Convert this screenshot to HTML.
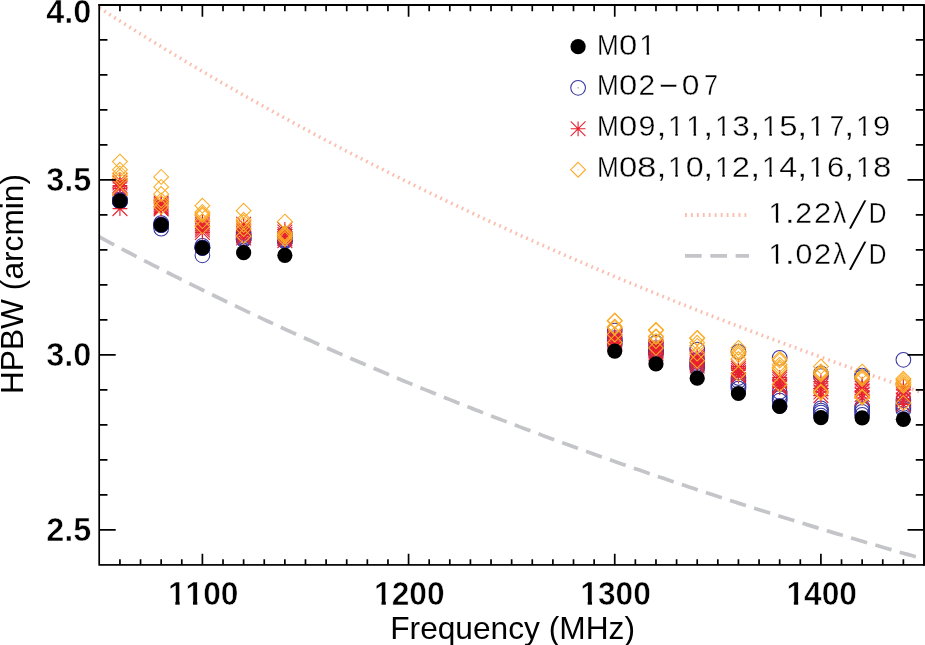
<!DOCTYPE html>
<html><head><meta charset="utf-8"><title>HPBW vs Frequency</title>
<style>
html,body{margin:0;padding:0;background:#fff;}
body{width:925px;height:645px;overflow:hidden;}
svg{display:block;}
text{font-kerning:none;}
.n{fill:none;stroke:#3434a2;stroke-width:1.05;}
.k{fill:#000;}
.r{fill:none;stroke:#e8202e;stroke-width:1.1;}
.o{fill:none;stroke:#fcab26;stroke-width:1.05;}
.lo{stroke-width:1.1;}
.tl{font-family:"Liberation Sans",Arial,sans-serif;font-weight:bold;font-size:33.0px;fill:#000;stroke:#fff;stroke-width:0.55px;}
.at{font-family:"Liberation Sans",Arial,sans-serif;font-size:31.7px;fill:#000;}
.lg{font-family:"Liberation Sans",Arial,sans-serif;font-size:28.8px;fill:#000;stroke:#fff;stroke-width:0.35px;}
</style></head>
<body><svg width="925" height="645" viewBox="0 0 925 645">
<rect width="925" height="645" fill="#fff"/>
<path d="M99.31 7.85 L103.44 10.51 L107.56 13.15 L111.69 15.79 L115.81 18.41 L119.93 21.03 L124.06 23.64 L128.18 26.23 L132.30 28.82 L136.43 31.40 L140.55 33.96 L144.67 36.52 L148.80 39.07 L152.92 41.61 L157.04 44.14 L161.17 46.66 L165.29 49.17 L169.41 51.67 L173.54 54.16 L177.66 56.64 L181.78 59.12 L185.91 61.58 L190.03 64.04 L194.15 66.49 L198.28 68.92 L202.40 71.35 L206.52 73.77 L210.65 76.18 L214.77 78.59 L218.89 80.98 L223.02 83.37 L227.14 85.74 L231.26 88.11 L235.39 90.47 L239.51 92.82 L243.63 95.17 L247.76 97.50 L251.88 99.83 L256.00 102.14 L260.13 104.45 L264.25 106.76 L268.37 109.05 L272.50 111.34 L276.62 113.61 L280.74 115.88 L284.87 118.14 L288.99 120.40 L293.11 122.64 L297.24 124.88 L301.36 127.11 L305.49 129.33 L309.61 131.55 L313.73 133.75 L317.86 135.95 L321.98 138.14 L326.10 140.33 L330.23 142.51 L334.35 144.67 L338.47 146.84 L342.60 148.99 L346.72 151.14 L350.84 153.28 L354.97 155.41 L359.09 157.53 L363.21 159.65 L367.34 161.76 L371.46 163.87 L375.58 165.96 L379.71 168.05 L383.83 170.13 L387.95 172.21 L392.08 174.28 L396.20 176.34 L400.32 178.39 L404.45 180.44 L408.57 182.48 L412.69 184.52 L416.82 186.54 L420.94 188.56 L425.06 190.58 L429.19 192.58 L433.31 194.58 L437.43 196.58 L441.56 198.57 L445.68 200.55 L449.80 202.52 L453.93 204.49 L458.05 206.45 L462.17 208.41 L466.30 210.35 L470.42 212.30 L474.54 214.23 L478.67 216.16 L482.79 218.09 L486.91 220.00 L491.04 221.91 L495.16 223.82 L499.28 225.72 L503.41 227.61 L507.53 229.50 L511.65 231.38 L515.78 233.25 L519.90 235.12 L524.03 236.98 L528.15 238.84 L532.27 240.69 L536.40 242.54 L540.52 244.38 L544.64 246.21 L548.77 248.04 L552.89 249.86 L557.01 251.67 L561.14 253.49 L565.26 255.29 L569.38 257.09 L573.51 258.88 L577.63 260.67 L581.75 262.45 L585.88 264.23 L590.00 266.00 L594.12 267.77 L598.25 269.53 L602.37 271.28 L606.49 273.03 L610.62 274.77 L614.74 276.51 L618.86 278.25 L622.99 279.97 L627.11 281.70 L631.23 283.42 L635.36 285.13 L639.48 286.83 L643.60 288.54 L647.73 290.23 L651.85 291.92 L655.97 293.61 L660.10 295.29 L664.22 296.97 L668.34 298.64 L672.47 300.30 L676.59 301.97 L680.71 303.62 L684.84 305.27 L688.96 306.92 L693.08 308.56 L697.21 310.20 L701.33 311.83 L705.45 313.45 L709.58 315.08 L713.70 316.69 L717.83 318.31 L721.95 319.91 L726.07 321.52 L730.20 323.11 L734.32 324.71 L738.44 326.30 L742.57 327.88 L746.69 329.46 L750.81 331.03 L754.94 332.60 L759.06 334.17 L763.18 335.73 L767.31 337.29 L771.43 338.84 L775.55 340.38 L779.68 341.93 L783.80 343.47 L787.92 345.00 L792.05 346.53 L796.17 348.05 L800.29 349.57 L804.42 351.09 L808.54 352.60 L812.66 354.11 L816.79 355.61 L820.91 357.11 L825.03 358.61 L829.16 360.10 L833.28 361.58 L837.40 363.07 L841.53 364.54 L845.65 366.02 L849.77 367.49 L853.90 368.95 L858.02 370.41 L862.14 371.87 L866.27 373.32 L870.39 374.77 L874.51 376.22 L878.64 377.66 L882.76 379.09 L886.88 380.53 L891.01 381.96 L895.13 383.38 L899.25 384.80 L903.38 386.22 L907.50 387.63 L911.62 389.04 L915.75 390.44 L919.87 391.85 L924.00 393.24" fill="none" stroke="#fabfae" stroke-width="3.6" stroke-dasharray="1.8 4.12"/>
<path d="M99.31 236.87 L103.44 239.10 L107.56 241.31 L111.69 243.51 L115.81 245.71 L119.93 247.89 L124.06 250.07 L128.18 252.24 L132.30 254.41 L136.43 256.56 L140.55 258.71 L144.67 260.85 L148.80 262.98 L152.92 265.10 L157.04 267.21 L161.17 269.32 L165.29 271.42 L169.41 273.51 L173.54 275.59 L177.66 277.67 L181.78 279.74 L185.91 281.80 L190.03 283.85 L194.15 285.90 L198.28 287.94 L202.40 289.97 L206.52 291.99 L210.65 294.01 L214.77 296.02 L218.89 298.02 L223.02 300.01 L227.14 302.00 L231.26 303.98 L235.39 305.95 L239.51 307.92 L243.63 309.88 L247.76 311.83 L251.88 313.77 L256.00 315.71 L260.13 317.64 L264.25 319.57 L268.37 321.48 L272.50 323.40 L276.62 325.30 L280.74 327.20 L284.87 329.09 L288.99 330.97 L293.11 332.85 L297.24 334.72 L301.36 336.58 L305.49 338.44 L309.61 340.29 L313.73 342.14 L317.86 343.98 L321.98 345.81 L326.10 347.64 L330.23 349.46 L334.35 351.27 L338.47 353.08 L342.60 354.88 L346.72 356.67 L350.84 358.46 L354.97 360.24 L359.09 362.02 L363.21 363.79 L367.34 365.56 L371.46 367.31 L375.58 369.07 L379.71 370.81 L383.83 372.55 L387.95 374.29 L392.08 376.02 L396.20 377.74 L400.32 379.46 L404.45 381.17 L408.57 382.88 L412.69 384.58 L416.82 386.27 L420.94 387.96 L425.06 389.65 L429.19 391.32 L433.31 393.00 L437.43 394.66 L441.56 396.33 L445.68 397.98 L449.80 399.63 L453.93 401.28 L458.05 402.92 L462.17 404.55 L466.30 406.18 L470.42 407.81 L474.54 409.42 L478.67 411.04 L482.79 412.65 L486.91 414.25 L491.04 415.85 L495.16 417.44 L499.28 419.03 L503.41 420.61 L507.53 422.19 L511.65 423.76 L515.78 425.33 L519.90 426.89 L524.03 428.45 L528.15 430.00 L532.27 431.55 L536.40 433.09 L540.52 434.63 L544.64 436.16 L548.77 437.69 L552.89 439.21 L557.01 440.73 L561.14 442.24 L565.26 443.75 L569.38 445.25 L573.51 446.75 L577.63 448.25 L581.75 449.74 L585.88 451.22 L590.00 452.71 L594.12 454.18 L598.25 455.65 L602.37 457.12 L606.49 458.58 L610.62 460.04 L614.74 461.49 L618.86 462.94 L622.99 464.39 L627.11 465.83 L631.23 467.27 L635.36 468.70 L639.48 470.12 L643.60 471.55 L647.73 472.96 L651.85 474.38 L655.97 475.79 L660.10 477.19 L664.22 478.60 L668.34 479.99 L672.47 481.39 L676.59 482.77 L680.71 484.16 L684.84 485.54 L688.96 486.92 L693.08 488.29 L697.21 489.66 L701.33 491.02 L705.45 492.38 L709.58 493.74 L713.70 495.09 L717.83 496.44 L721.95 497.78 L726.07 499.12 L730.20 500.46 L734.32 501.79 L738.44 503.12 L742.57 504.44 L746.69 505.76 L750.81 507.08 L754.94 508.39 L759.06 509.70 L763.18 511.00 L767.31 512.30 L771.43 513.60 L775.55 514.90 L779.68 516.19 L783.80 517.47 L787.92 518.75 L792.05 520.03 L796.17 521.31 L800.29 522.58 L804.42 523.85 L808.54 525.11 L812.66 526.37 L816.79 527.63 L820.91 528.88 L825.03 530.13 L829.16 531.38 L833.28 532.62 L837.40 533.86 L841.53 535.09 L845.65 536.33 L849.77 537.55 L853.90 538.78 L858.02 540.00 L862.14 541.22 L866.27 542.43 L870.39 543.65 L874.51 544.85 L878.64 546.06 L882.76 547.26 L886.88 548.46 L891.01 549.65 L895.13 550.84 L899.25 552.03 L903.38 553.21 L907.50 554.40 L911.62 555.57 L915.75 556.75 L919.87 557.92 L924.00 559.09" fill="none" stroke="#c4c5c9" stroke-width="3.7" stroke-dasharray="16.8 8.55"/>
<circle cx="119.93" cy="199.5" r="7.35" class="n"/>
<circle cx="119.93" cy="200.9" r="7.35" class="n"/>
<circle cx="119.93" cy="200.9" r="7.35" class="n"/>
<circle cx="119.93" cy="200.9" r="7.35" class="n"/>
<circle cx="119.93" cy="201.2" r="7.35" class="n"/>
<circle cx="119.93" cy="201.5" r="7.35" class="n"/>
<circle cx="161.17" cy="223" r="7.35" class="n"/>
<circle cx="161.17" cy="224.8" r="7.35" class="n"/>
<circle cx="161.17" cy="224.8" r="7.35" class="n"/>
<circle cx="161.17" cy="225" r="7.35" class="n"/>
<circle cx="161.17" cy="225.2" r="7.35" class="n"/>
<circle cx="161.17" cy="228.6" r="7.35" class="n"/>
<circle cx="202.4" cy="245.8" r="7.35" class="n"/>
<circle cx="202.4" cy="247.8" r="7.35" class="n"/>
<circle cx="202.4" cy="247.8" r="7.35" class="n"/>
<circle cx="202.4" cy="247.8" r="7.35" class="n"/>
<circle cx="202.4" cy="248" r="7.35" class="n"/>
<circle cx="202.4" cy="255.3" r="7.35" class="n"/>
<circle cx="243.63" cy="233" r="7.35" class="n"/>
<circle cx="243.63" cy="235" r="7.35" class="n"/>
<circle cx="243.63" cy="236.5" r="7.35" class="n"/>
<circle cx="243.63" cy="238" r="7.35" class="n"/>
<circle cx="243.63" cy="239" r="7.35" class="n"/>
<circle cx="243.63" cy="240" r="7.35" class="n"/>
<circle cx="284.87" cy="234" r="7.35" class="n"/>
<circle cx="284.87" cy="236" r="7.35" class="n"/>
<circle cx="284.87" cy="238" r="7.35" class="n"/>
<circle cx="284.87" cy="239.5" r="7.35" class="n"/>
<circle cx="284.87" cy="240.5" r="7.35" class="n"/>
<circle cx="284.87" cy="241.5" r="7.35" class="n"/>
<circle cx="614.74" cy="330.5" r="7.35" class="n"/>
<circle cx="614.74" cy="338" r="7.35" class="n"/>
<circle cx="614.74" cy="340" r="7.35" class="n"/>
<circle cx="614.74" cy="341" r="7.35" class="n"/>
<circle cx="614.74" cy="342" r="7.35" class="n"/>
<circle cx="614.74" cy="344" r="7.35" class="n"/>
<circle cx="655.97" cy="342.7" r="7.35" class="n"/>
<circle cx="655.97" cy="348" r="7.35" class="n"/>
<circle cx="655.97" cy="350" r="7.35" class="n"/>
<circle cx="655.97" cy="351" r="7.35" class="n"/>
<circle cx="655.97" cy="352" r="7.35" class="n"/>
<circle cx="655.97" cy="354" r="7.35" class="n"/>
<circle cx="697.21" cy="349.5" r="7.35" class="n"/>
<circle cx="697.21" cy="360" r="7.35" class="n"/>
<circle cx="697.21" cy="362" r="7.35" class="n"/>
<circle cx="697.21" cy="364" r="7.35" class="n"/>
<circle cx="697.21" cy="366" r="7.35" class="n"/>
<circle cx="697.21" cy="368" r="7.35" class="n"/>
<circle cx="738.44" cy="351.8" r="7.35" class="n"/>
<circle cx="738.44" cy="378" r="7.35" class="n"/>
<circle cx="738.44" cy="381" r="7.35" class="n"/>
<circle cx="738.44" cy="384" r="7.35" class="n"/>
<circle cx="738.44" cy="386.5" r="7.35" class="n"/>
<circle cx="738.44" cy="388.5" r="7.35" class="n"/>
<circle cx="779.68" cy="357.8" r="7.35" class="n"/>
<circle cx="779.68" cy="392" r="7.35" class="n"/>
<circle cx="779.68" cy="395.3" r="7.35" class="n"/>
<circle cx="779.68" cy="398" r="7.35" class="n"/>
<circle cx="779.68" cy="400.5" r="7.35" class="n"/>
<circle cx="779.68" cy="406" r="7.35" class="n"/>
<circle cx="820.91" cy="373.4" r="7.35" class="n"/>
<circle cx="820.91" cy="376" r="7.35" class="n"/>
<circle cx="820.91" cy="408.3" r="7.35" class="n"/>
<circle cx="820.91" cy="410.5" r="7.35" class="n"/>
<circle cx="820.91" cy="412.5" r="7.35" class="n"/>
<circle cx="820.91" cy="415.5" r="7.35" class="n"/>
<circle cx="862.14" cy="375.5" r="7.35" class="n"/>
<circle cx="862.14" cy="377" r="7.35" class="n"/>
<circle cx="862.14" cy="406.8" r="7.35" class="n"/>
<circle cx="862.14" cy="409" r="7.35" class="n"/>
<circle cx="862.14" cy="411.8" r="7.35" class="n"/>
<circle cx="862.14" cy="414.9" r="7.35" class="n"/>
<circle cx="903.38" cy="359.8" r="7.35" class="n"/>
<circle cx="903.38" cy="400" r="7.35" class="n"/>
<circle cx="903.38" cy="404" r="7.35" class="n"/>
<circle cx="903.38" cy="406" r="7.35" class="n"/>
<circle cx="903.38" cy="408" r="7.35" class="n"/>
<circle cx="903.38" cy="410" r="7.35" class="n"/>
<path class="r" d="M112.53 173.1L127.33 187.9M127.33 173.1L112.53 187.9M119.93 173.1V187.9M112.53 180.5H127.33"/>
<path class="r" d="M112.53 175.6L127.33 190.4M127.33 175.6L112.53 190.4M119.93 175.6V190.4M112.53 183H127.33"/>
<path class="r" d="M112.53 178.1L127.33 192.9M127.33 178.1L112.53 192.9M119.93 178.1V192.9M112.53 185.5H127.33"/>
<path class="r" d="M112.53 179.4L127.33 194.2M127.33 179.4L112.53 194.2M119.93 179.4V194.2M112.53 186.8H127.33"/>
<path class="r" d="M112.53 181.1L127.33 195.9M127.33 181.1L112.53 195.9M119.93 181.1V195.9M112.53 188.5H127.33"/>
<path class="r" d="M112.53 201.2L127.33 216M127.33 201.2L112.53 216M119.93 201.2V216M112.53 208.6H127.33"/>
<path class="o" d="M119.93 154.2L127.33 161.6L119.93 169L112.53 161.6Z"/>
<path class="o" d="M119.93 162.3L127.33 169.7L119.93 177.1L112.53 169.7Z"/>
<path class="o" d="M119.93 166L127.33 173.4L119.93 180.8L112.53 173.4Z"/>
<path class="o" d="M119.93 169.1L127.33 176.5L119.93 183.9L112.53 176.5Z"/>
<path class="o" d="M119.93 172.1L127.33 179.5L119.93 186.9L112.53 179.5Z"/>
<path class="o" d="M119.93 186.9L127.33 194.3L119.93 201.7L112.53 194.3Z"/>
<path class="r" d="M153.77 195.6L168.57 210.4M168.57 195.6L153.77 210.4M161.17 195.6V210.4M153.77 203H168.57"/>
<path class="r" d="M153.77 197.1L168.57 211.9M168.57 197.1L153.77 211.9M161.17 197.1V211.9M153.77 204.5H168.57"/>
<path class="r" d="M153.77 198.6L168.57 213.4M168.57 198.6L153.77 213.4M161.17 198.6V213.4M153.77 206H168.57"/>
<path class="r" d="M153.77 199.6L168.57 214.4M168.57 199.6L153.77 214.4M161.17 199.6V214.4M153.77 207H168.57"/>
<path class="r" d="M153.77 200.6L168.57 215.4M168.57 200.6L153.77 215.4M161.17 200.6V215.4M153.77 208H168.57"/>
<path class="r" d="M153.77 201.6L168.57 216.4M168.57 201.6L153.77 216.4M161.17 201.6V216.4M153.77 209H168.57"/>
<path class="o" d="M161.17 169.5L168.57 176.9L161.17 184.3L153.77 176.9Z"/>
<path class="o" d="M161.17 179.5L168.57 186.9L161.17 194.3L153.77 186.9Z"/>
<path class="o" d="M161.17 186.6L168.57 194L161.17 201.4L153.77 194Z"/>
<path class="o" d="M161.17 192.9L168.57 200.3L161.17 207.7L153.77 200.3Z"/>
<path class="o" d="M161.17 195.6L168.57 203L161.17 210.4L153.77 203Z"/>
<path class="o" d="M161.17 199.4L168.57 206.8L161.17 214.2L153.77 206.8Z"/>
<path class="r" d="M195 214.4L209.8 229.2M209.8 214.4L195 229.2M202.4 214.4V229.2M195 221.8H209.8"/>
<path class="r" d="M195 216.6L209.8 231.4M209.8 216.6L195 231.4M202.4 216.6V231.4M195 224H209.8"/>
<path class="r" d="M195 218.6L209.8 233.4M209.8 218.6L195 233.4M202.4 218.6V233.4M195 226H209.8"/>
<path class="r" d="M195 220.6L209.8 235.4M209.8 220.6L195 235.4M202.4 220.6V235.4M195 228H209.8"/>
<path class="r" d="M195 222.6L209.8 237.4M209.8 222.6L195 237.4M202.4 222.6V237.4M195 230H209.8"/>
<path class="r" d="M195 225L209.8 239.8M209.8 225L195 239.8M202.4 225V239.8M195 232.4H209.8"/>
<path class="o" d="M202.4 198.3L209.8 205.7L202.4 213.1L195 205.7Z"/>
<path class="o" d="M202.4 204.5L209.8 211.9L202.4 219.3L195 211.9Z"/>
<path class="o" d="M202.4 206.4L209.8 213.8L202.4 221.2L195 213.8Z"/>
<path class="o" d="M202.4 207.9L209.8 215.3L202.4 222.7L195 215.3Z"/>
<path class="o" d="M202.4 213.8L209.8 221.2L202.4 228.6L195 221.2Z"/>
<path class="o" d="M202.4 219L209.8 226.4L202.4 233.8L195 226.4Z"/>
<path class="r" d="M236.23 216.9L251.03 231.7M251.03 216.9L236.23 231.7M243.63 216.9V231.7M236.23 224.3H251.03"/>
<path class="r" d="M236.23 220.6L251.03 235.4M251.03 220.6L236.23 235.4M243.63 220.6V235.4M236.23 228H251.03"/>
<path class="r" d="M236.23 223.6L251.03 238.4M251.03 223.6L236.23 238.4M243.63 223.6V238.4M236.23 231H251.03"/>
<path class="r" d="M236.23 226.1L251.03 240.9M251.03 226.1L236.23 240.9M243.63 226.1V240.9M236.23 233.5H251.03"/>
<path class="r" d="M236.23 228.2L251.03 243M251.03 228.2L236.23 243M243.63 228.2V243M236.23 235.6H251.03"/>
<path class="r" d="M236.23 230.6L251.03 245.4M251.03 230.6L236.23 245.4M243.63 230.6V245.4M236.23 238H251.03"/>
<path class="o" d="M243.63 203.3L251.03 210.7L243.63 218.1L236.23 210.7Z"/>
<path class="o" d="M243.63 212.3L251.03 219.7L243.63 227.1L236.23 219.7Z"/>
<path class="o" d="M243.63 214.6L251.03 222L243.63 229.4L236.23 222Z"/>
<path class="o" d="M243.63 217.6L251.03 225L243.63 232.4L236.23 225Z"/>
<path class="o" d="M243.63 221.6L251.03 229L243.63 236.4L236.23 229Z"/>
<path class="o" d="M243.63 228.8L251.03 236.2L243.63 243.6L236.23 236.2Z"/>
<path class="r" d="M277.47 222.1L292.27 236.9M292.27 222.1L277.47 236.9M284.87 222.1V236.9M277.47 229.5H292.27"/>
<path class="r" d="M277.47 224.6L292.27 239.4M292.27 224.6L277.47 239.4M284.87 224.6V239.4M277.47 232H292.27"/>
<path class="r" d="M277.47 227.1L292.27 241.9M292.27 227.1L277.47 241.9M284.87 227.1V241.9M277.47 234.5H292.27"/>
<path class="r" d="M277.47 229.1L292.27 243.9M292.27 229.1L277.47 243.9M284.87 229.1V243.9M277.47 236.5H292.27"/>
<path class="r" d="M277.47 231.1L292.27 245.9M292.27 231.1L277.47 245.9M284.87 231.1V245.9M277.47 238.5H292.27"/>
<path class="r" d="M277.47 233.2L292.27 248M292.27 233.2L277.47 248M284.87 233.2V248M277.47 240.6H292.27"/>
<path class="o" d="M284.87 214.2L292.27 221.6L284.87 229L277.47 221.6Z"/>
<path class="o" d="M284.87 225.6L292.27 233L284.87 240.4L277.47 233Z"/>
<path class="o" d="M284.87 227.1L292.27 234.5L284.87 241.9L277.47 234.5Z"/>
<path class="o" d="M284.87 228.6L292.27 236L284.87 243.4L277.47 236Z"/>
<path class="o" d="M284.87 229.3L292.27 236.7L284.87 244.1L277.47 236.7Z"/>
<path class="o" d="M284.87 231.6L292.27 239L284.87 246.4L277.47 239Z"/>
<path class="r" d="M607.34 328.6L622.14 343.4M622.14 328.6L607.34 343.4M614.74 328.6V343.4M607.34 336H622.14"/>
<path class="r" d="M607.34 330.6L622.14 345.4M622.14 330.6L607.34 345.4M614.74 330.6V345.4M607.34 338H622.14"/>
<path class="r" d="M607.34 332.1L622.14 346.9M622.14 332.1L607.34 346.9M614.74 332.1V346.9M607.34 339.5H622.14"/>
<path class="r" d="M607.34 333.6L622.14 348.4M622.14 333.6L607.34 348.4M614.74 333.6V348.4M607.34 341H622.14"/>
<path class="r" d="M607.34 335.1L622.14 349.9M622.14 335.1L607.34 349.9M614.74 335.1V349.9M607.34 342.5H622.14"/>
<path class="r" d="M607.34 336.6L622.14 351.4M622.14 336.6L607.34 351.4M614.74 336.6V351.4M607.34 344H622.14"/>
<path class="o" d="M614.74 313L622.14 320.4L614.74 327.8L607.34 320.4Z"/>
<path class="o" d="M614.74 313.7L622.14 321.1L614.74 328.5L607.34 321.1Z"/>
<path class="o" d="M614.74 319.2L622.14 326.6L614.74 334L607.34 326.6Z"/>
<path class="o" d="M614.74 320.4L622.14 327.8L614.74 335.2L607.34 327.8Z"/>
<path class="o" d="M614.74 327.1L622.14 334.5L614.74 341.9L607.34 334.5Z"/>
<path class="o" d="M614.74 335L622.14 342.4L614.74 349.8L607.34 342.4Z"/>
<path class="r" d="M648.57 338.6L663.37 353.4M663.37 338.6L648.57 353.4M655.97 338.6V353.4M648.57 346H663.37"/>
<path class="r" d="M648.57 340.1L663.37 354.9M663.37 340.1L648.57 354.9M655.97 340.1V354.9M648.57 347.5H663.37"/>
<path class="r" d="M648.57 341.6L663.37 356.4M663.37 341.6L648.57 356.4M655.97 341.6V356.4M648.57 349H663.37"/>
<path class="r" d="M648.57 343.1L663.37 357.9M663.37 343.1L648.57 357.9M655.97 343.1V357.9M648.57 350.5H663.37"/>
<path class="r" d="M648.57 344.6L663.37 359.4M663.37 344.6L648.57 359.4M655.97 344.6V359.4M648.57 352H663.37"/>
<path class="r" d="M648.57 346.1L663.37 360.9M663.37 346.1L648.57 360.9M655.97 346.1V360.9M648.57 353.5H663.37"/>
<path class="o" d="M655.97 322.4L663.37 329.8L655.97 337.2L648.57 329.8Z"/>
<path class="o" d="M655.97 323.1L663.37 330.5L655.97 337.9L648.57 330.5Z"/>
<path class="o" d="M655.97 328.9L663.37 336.3L655.97 343.7L648.57 336.3Z"/>
<path class="o" d="M655.97 329.6L663.37 337L655.97 344.4L648.57 337Z"/>
<path class="o" d="M655.97 333.7L663.37 341.1L655.97 348.5L648.57 341.1Z"/>
<path class="o" d="M655.97 340.5L663.37 347.9L655.97 355.3L648.57 347.9Z"/>
<path class="r" d="M689.81 348.6L704.61 363.4M704.61 348.6L689.81 363.4M697.21 348.6V363.4M689.81 356H704.61"/>
<path class="r" d="M689.81 350.6L704.61 365.4M704.61 350.6L689.81 365.4M697.21 350.6V365.4M689.81 358H704.61"/>
<path class="r" d="M689.81 352.6L704.61 367.4M704.61 352.6L689.81 367.4M697.21 352.6V367.4M689.81 360H704.61"/>
<path class="r" d="M689.81 354.6L704.61 369.4M704.61 354.6L689.81 369.4M697.21 354.6V369.4M689.81 362H704.61"/>
<path class="r" d="M689.81 356.6L704.61 371.4M704.61 356.6L689.81 371.4M697.21 356.6V371.4M689.81 364H704.61"/>
<path class="r" d="M689.81 358.6L704.61 373.4M704.61 358.6L689.81 373.4M697.21 358.6V373.4M689.81 366H704.61"/>
<path class="o" d="M697.21 330.4L704.61 337.8L697.21 345.2L689.81 337.8Z"/>
<path class="o" d="M697.21 331L704.61 338.4L697.21 345.8L689.81 338.4Z"/>
<path class="o" d="M697.21 335.3L704.61 342.7L697.21 350.1L689.81 342.7Z"/>
<path class="o" d="M697.21 338.4L704.61 345.8L697.21 353.2L689.81 345.8Z"/>
<path class="o" d="M697.21 346.3L704.61 353.7L697.21 361.1L689.81 353.7Z"/>
<path class="o" d="M697.21 353.3L704.61 360.7L697.21 368.1L689.81 360.7Z"/>
<path class="r" d="M731.04 359.2L745.84 374M745.84 359.2L731.04 374M738.44 359.2V374M731.04 366.6H745.84"/>
<path class="r" d="M731.04 361.1L745.84 375.9M745.84 361.1L731.04 375.9M738.44 361.1V375.9M731.04 368.5H745.84"/>
<path class="r" d="M731.04 363.1L745.84 377.9M745.84 363.1L731.04 377.9M738.44 363.1V377.9M731.04 370.5H745.84"/>
<path class="r" d="M731.04 365.1L745.84 379.9M745.84 365.1L731.04 379.9M738.44 365.1V379.9M731.04 372.5H745.84"/>
<path class="r" d="M731.04 367.1L745.84 381.9M745.84 367.1L731.04 381.9M738.44 367.1V381.9M731.04 374.5H745.84"/>
<path class="r" d="M731.04 368.6L745.84 383.4M745.84 368.6L731.04 383.4M738.44 368.6V383.4M731.04 376H745.84"/>
<path class="o" d="M738.44 340.4L745.84 347.8L738.44 355.2L731.04 347.8Z"/>
<path class="o" d="M738.44 343.6L745.84 351L738.44 358.4L731.04 351Z"/>
<path class="o" d="M738.44 345.6L745.84 353L738.44 360.4L731.04 353Z"/>
<path class="o" d="M738.44 347.6L745.84 355L738.44 362.4L731.04 355Z"/>
<path class="o" d="M738.44 351.6L745.84 359L738.44 366.4L731.04 359Z"/>
<path class="o" d="M738.44 366.3L745.84 373.7L738.44 381.1L731.04 373.7Z"/>
<path class="r" d="M772.28 370L787.08 384.8M787.08 370L772.28 384.8M779.68 370V384.8M772.28 377.4H787.08"/>
<path class="r" d="M772.28 371.9L787.08 386.7M787.08 371.9L772.28 386.7M779.68 371.9V386.7M772.28 379.3H787.08"/>
<path class="r" d="M772.28 374.4L787.08 389.2M787.08 374.4L772.28 389.2M779.68 374.4V389.2M772.28 381.8H787.08"/>
<path class="r" d="M772.28 377.5L787.08 392.3M787.08 377.5L772.28 392.3M779.68 377.5V392.3M772.28 384.9H787.08"/>
<path class="r" d="M772.28 379.3L787.08 394.1M787.08 379.3L772.28 394.1M779.68 379.3V394.1M772.28 386.7H787.08"/>
<path class="r" d="M772.28 380.1L787.08 394.9M787.08 380.1L772.28 394.9M779.68 380.1V394.9M772.28 387.5H787.08"/>
<path class="o" d="M779.68 351.4L787.08 358.8L779.68 366.2L772.28 358.8Z"/>
<path class="o" d="M779.68 353.2L787.08 360.6L779.68 368L772.28 360.6Z"/>
<path class="o" d="M779.68 357.3L787.08 364.7L779.68 372.1L772.28 364.7Z"/>
<path class="o" d="M779.68 359.8L787.08 367.2L779.68 374.6L772.28 367.2Z"/>
<path class="o" d="M779.68 361.6L787.08 369L779.68 376.4L772.28 369Z"/>
<path class="o" d="M779.68 376.9L787.08 384.3L779.68 391.7L772.28 384.3Z"/>
<path class="r" d="M813.51 374.3L828.31 389.1M828.31 374.3L813.51 389.1M820.91 374.3V389.1M813.51 381.7H828.31"/>
<path class="r" d="M813.51 376.4L828.31 391.2M828.31 376.4L813.51 391.2M820.91 376.4V391.2M813.51 383.8H828.31"/>
<path class="r" d="M813.51 378.6L828.31 393.4M828.31 378.6L813.51 393.4M820.91 378.6V393.4M813.51 386H828.31"/>
<path class="r" d="M813.51 381.1L828.31 395.9M828.31 381.1L813.51 395.9M820.91 381.1V395.9M813.51 388.5H828.31"/>
<path class="r" d="M813.51 384.6L828.31 399.4M828.31 384.6L813.51 399.4M820.91 384.6V399.4M813.51 392H828.31"/>
<path class="r" d="M813.51 388.2L828.31 403M828.31 388.2L813.51 403M820.91 388.2V403M813.51 395.6H828.31"/>
<path class="o" d="M820.91 359.2L828.31 366.6L820.91 374L813.51 366.6Z"/>
<path class="o" d="M820.91 364.1L828.31 371.5L820.91 378.9L813.51 371.5Z"/>
<path class="o" d="M820.91 365.6L828.31 373L820.91 380.4L813.51 373Z"/>
<path class="o" d="M820.91 367.1L828.31 374.5L820.91 381.9L813.51 374.5Z"/>
<path class="o" d="M820.91 384L828.31 391.4L820.91 398.8L813.51 391.4Z"/>
<path class="o" d="M820.91 385.1L828.31 392.5L820.91 399.9L813.51 392.5Z"/>
<path class="r" d="M854.74 376.8L869.54 391.6M869.54 376.8L854.74 391.6M862.14 376.8V391.6M854.74 384.2H869.54"/>
<path class="r" d="M854.74 378.6L869.54 393.4M869.54 378.6L854.74 393.4M862.14 378.6V393.4M854.74 386H869.54"/>
<path class="r" d="M854.74 380.8L869.54 395.6M869.54 380.8L854.74 395.6M862.14 380.8V395.6M854.74 388.2H869.54"/>
<path class="r" d="M854.74 383.6L869.54 398.4M869.54 383.6L854.74 398.4M862.14 383.6V398.4M854.74 391H869.54"/>
<path class="r" d="M854.74 387.1L869.54 401.9M869.54 387.1L854.74 401.9M862.14 387.1V401.9M854.74 394.5H869.54"/>
<path class="r" d="M854.74 390.6L869.54 405.4M869.54 390.6L854.74 405.4M862.14 390.6V405.4M854.74 398H869.54"/>
<path class="o" d="M862.14 364.2L869.54 371.6L862.14 379L854.74 371.6Z"/>
<path class="o" d="M862.14 368.9L869.54 376.3L862.14 383.7L854.74 376.3Z"/>
<path class="o" d="M862.14 370.2L869.54 377.6L862.14 385L854.74 377.6Z"/>
<path class="o" d="M862.14 371.6L869.54 379L862.14 386.4L854.74 379Z"/>
<path class="o" d="M862.14 389L869.54 396.4L862.14 403.8L854.74 396.4Z"/>
<path class="o" d="M862.14 390.1L869.54 397.5L862.14 404.9L854.74 397.5Z"/>
<path class="r" d="M895.98 379.3L910.78 394.1M910.78 379.3L895.98 394.1M903.38 379.3V394.1M895.98 386.7H910.78"/>
<path class="r" d="M895.98 382.6L910.78 397.4M910.78 382.6L895.98 397.4M903.38 382.6V397.4M895.98 390H910.78"/>
<path class="r" d="M895.98 386.6L910.78 401.4M910.78 386.6L895.98 401.4M903.38 386.6V401.4M895.98 394H910.78"/>
<path class="r" d="M895.98 388.6L910.78 403.4M910.78 388.6L895.98 403.4M903.38 388.6V403.4M895.98 396H910.78"/>
<path class="r" d="M895.98 392.6L910.78 407.4M910.78 392.6L895.98 407.4M903.38 392.6V407.4M895.98 400H910.78"/>
<path class="r" d="M895.98 397L910.78 411.8M910.78 397L895.98 411.8M903.38 397V411.8M895.98 404.4H910.78"/>
<path class="o" d="M903.38 371.3L910.78 378.7L903.38 386.1L895.98 378.7Z"/>
<path class="o" d="M903.38 373L910.78 380.4L903.38 387.8L895.98 380.4Z"/>
<path class="o" d="M903.38 375.1L910.78 382.5L903.38 389.9L895.98 382.5Z"/>
<path class="o" d="M903.38 376.9L910.78 384.3L903.38 391.7L895.98 384.3Z"/>
<path class="o" d="M903.38 378.4L910.78 385.8L903.38 393.2L895.98 385.8Z"/>
<path class="o" d="M903.38 395.6L910.78 403L903.38 410.4L895.98 403Z"/>
<circle cx="119.93" cy="200.9" r="7.6" class="k"/>
<circle cx="161.17" cy="224.8" r="7.6" class="k"/>
<circle cx="202.4" cy="247.8" r="7.6" class="k"/>
<circle cx="243.63" cy="252.6" r="7.6" class="k"/>
<circle cx="284.87" cy="255.3" r="7.6" class="k"/>
<circle cx="614.74" cy="351.1" r="7.6" class="k"/>
<circle cx="655.97" cy="363.9" r="7.6" class="k"/>
<circle cx="697.21" cy="378.2" r="7.6" class="k"/>
<circle cx="738.44" cy="393.5" r="7.6" class="k"/>
<circle cx="779.68" cy="406.4" r="7.6" class="k"/>
<circle cx="820.91" cy="417.7" r="7.6" class="k"/>
<circle cx="862.14" cy="417.9" r="7.6" class="k"/>
<circle cx="903.38" cy="419.3" r="7.6" class="k"/>
<path d="M119.93 564.9v-5.6M119.93 5.0v6.2M140.55 564.9v-5.6M140.55 5.0v6.2M161.17 564.9v-5.6M161.17 5.0v6.2M181.78 564.9v-5.6M181.78 5.0v6.2M202.4 564.9v-11.2M202.4 5.0v11.8M223.02 564.9v-5.6M223.02 5.0v6.2M243.63 564.9v-5.6M243.63 5.0v6.2M264.25 564.9v-5.6M264.25 5.0v6.2M284.87 564.9v-5.6M284.87 5.0v6.2M305.49 564.9v-5.6M305.49 5.0v6.2M326.1 564.9v-5.6M326.1 5.0v6.2M346.72 564.9v-5.6M346.72 5.0v6.2M367.34 564.9v-5.6M367.34 5.0v6.2M387.95 564.9v-5.6M387.95 5.0v6.2M408.57 564.9v-11.2M408.57 5.0v11.8M429.19 564.9v-5.6M429.19 5.0v6.2M449.8 564.9v-5.6M449.8 5.0v6.2M470.42 564.9v-5.6M470.42 5.0v6.2M491.04 564.9v-5.6M491.04 5.0v6.2M511.65 564.9v-5.6M511.65 5.0v6.2M532.27 564.9v-5.6M532.27 5.0v6.2M552.89 564.9v-5.6M552.89 5.0v6.2M573.51 564.9v-5.6M573.51 5.0v6.2M594.12 564.9v-5.6M594.12 5.0v6.2M614.74 564.9v-11.2M614.74 5.0v11.8M635.36 564.9v-5.6M635.36 5.0v6.2M655.97 564.9v-5.6M655.97 5.0v6.2M676.59 564.9v-5.6M676.59 5.0v6.2M697.21 564.9v-5.6M697.21 5.0v6.2M717.83 564.9v-5.6M717.83 5.0v6.2M738.44 564.9v-5.6M738.44 5.0v6.2M759.06 564.9v-5.6M759.06 5.0v6.2M779.68 564.9v-5.6M779.68 5.0v6.2M800.29 564.9v-5.6M800.29 5.0v6.2M820.91 564.9v-11.2M820.91 5.0v11.8M841.53 564.9v-5.6M841.53 5.0v6.2M862.14 564.9v-5.6M862.14 5.0v6.2M882.76 564.9v-5.6M882.76 5.0v6.2M903.38 564.9v-5.6M903.38 5.0v6.2M99.2 529.9h16.5M924.0 529.9h-16.5M99.2 494.9h8.25M924.0 494.9h-8.25M99.2 459.9h8.25M924.0 459.9h-8.25M99.2 424.9h8.25M924.0 424.9h-8.25M99.2 389.9h8.25M924.0 389.9h-8.25M99.2 354.9h16.5M924.0 354.9h-16.5M99.2 319.9h8.25M924.0 319.9h-8.25M99.2 284.9h8.25M924.0 284.9h-8.25M99.2 249.9h8.25M924.0 249.9h-8.25M99.2 214.9h8.25M924.0 214.9h-8.25M99.2 179.9h16.5M924.0 179.9h-16.5M99.2 144.9h8.25M924.0 144.9h-8.25M99.2 109.9h8.25M924.0 109.9h-8.25M99.2 74.9h8.25M924.0 74.9h-8.25M99.2 39.9h8.25M924.0 39.9h-8.25" stroke="#000" stroke-width="1.7" fill="none"/>
<rect x="99.2" y="5.0" width="824.8" height="559.9" fill="none" stroke="#000" stroke-width="1.7"/>
<path d="M924 4.2V565.7" stroke="#000" stroke-width="2"/>
<path d="M98.4 5H924" stroke="#000" stroke-width="2"/>
<text x="167.94" y="604.9" class="tl" textLength="70.52" lengthAdjust="spacingAndGlyphs">1100</text>
<text x="374.11" y="604.9" class="tl" textLength="70.52" lengthAdjust="spacingAndGlyphs">1200</text>
<text x="580.28" y="604.9" class="tl" textLength="70.52" lengthAdjust="spacingAndGlyphs">1300</text>
<text x="786.45" y="604.9" class="tl" textLength="70.52" lengthAdjust="spacingAndGlyphs">1400</text>
<text x="91.4" y="22.8" class="tl" text-anchor="end" textLength="45.07" lengthAdjust="spacingAndGlyphs">4.0</text>
<text x="91.4" y="190.8" class="tl" text-anchor="end" textLength="45.07" lengthAdjust="spacingAndGlyphs">3.5</text>
<text x="91.4" y="365.9" class="tl" text-anchor="end" textLength="45.07" lengthAdjust="spacingAndGlyphs">3.0</text>
<text x="91.4" y="540.9" class="tl" text-anchor="end" textLength="45.07" lengthAdjust="spacingAndGlyphs">2.5</text>
<text x="512.6" y="638.7" class="at" text-anchor="middle">Frequency (MHz)</text>
<text transform="translate(22.7 284) rotate(-90)" class="at" text-anchor="middle">HPBW (arcmin)</text>
<circle cx="578.1" cy="46.7" r="7.6" class="k"/>
<circle cx="578.1" cy="87.8" r="7.35" class="n"/>
<path class="r" d="M570.7 121.4L585.5 136.2M585.5 121.4L570.7 136.2M578.1 121.4V136.2M570.7 128.8H585.5"/>
<path class="o lo" d="M578.1 162.3L585.5 169.7L578.1 177.1L570.7 169.7Z"/>
<rect x="577.5" y="87.2" width="1.2" height="1.2" fill="#3434a2" opacity="0.55"/>
<rect x="577.5" y="169.1" width="1.2" height="1.2" fill="#fcab26" opacity="0.55"/>
<path d="M685 215H749" stroke="#fabfae" stroke-width="3.8" stroke-dasharray="1.85 4.1"/>
<path d="M685 255.9H749" stroke="#c4c5c9" stroke-width="3.8" stroke-dasharray="16.7 8.6"/>
<text y="54.5" class="lg"><tspan x="596.97" textLength="21.67" lengthAdjust="spacingAndGlyphs">M</tspan><tspan x="619.02" textLength="18.27" lengthAdjust="spacingAndGlyphs">0</tspan><tspan x="639.37">1</tspan></text>
<text y="95.4" class="lg"><tspan x="596.97" textLength="21.67" lengthAdjust="spacingAndGlyphs">M</tspan><tspan x="619.02" textLength="18.27" lengthAdjust="spacingAndGlyphs">0</tspan><tspan x="638.5" textLength="16.6" lengthAdjust="spacingAndGlyphs">2</tspan><tspan x="657.38" dy="-1.8" textLength="22.64" lengthAdjust="spacingAndGlyphs">-</tspan><tspan x="681.76" dy="1.8" textLength="17.68" lengthAdjust="spacingAndGlyphs">0</tspan><tspan x="704.28" textLength="13.61" lengthAdjust="spacingAndGlyphs">7</tspan></text>
<text y="136.2" class="lg"><tspan x="596.97" textLength="21.67" lengthAdjust="spacingAndGlyphs">M</tspan><tspan x="619.02" textLength="18.27" lengthAdjust="spacingAndGlyphs">0</tspan><tspan x="638.47" textLength="16.98" lengthAdjust="spacingAndGlyphs">9</tspan><tspan x="656.25" textLength="10.4" lengthAdjust="spacingAndGlyphs">,</tspan><tspan x="668.02">1</tspan><tspan x="686.32">1</tspan><tspan x="703" textLength="10.4" lengthAdjust="spacingAndGlyphs">,</tspan><tspan x="715.02">1</tspan><tspan x="732.3" textLength="17.48" lengthAdjust="spacingAndGlyphs">3</tspan><tspan x="749.9" textLength="10.4" lengthAdjust="spacingAndGlyphs">,</tspan><tspan x="762.07">1</tspan><tspan x="779.28" textLength="18.3" lengthAdjust="spacingAndGlyphs">5</tspan><tspan x="796.9" textLength="10.4" lengthAdjust="spacingAndGlyphs">,</tspan><tspan x="808.87">1</tspan><tspan x="829.67" textLength="14.44" lengthAdjust="spacingAndGlyphs">7</tspan><tspan x="843.9" textLength="10.4" lengthAdjust="spacingAndGlyphs">,</tspan><tspan x="856.02">1</tspan><tspan x="872.95" textLength="17.22" lengthAdjust="spacingAndGlyphs">9</tspan></text>
<text y="177.4" class="lg"><tspan x="596.97" textLength="21.67" lengthAdjust="spacingAndGlyphs">M</tspan><tspan x="619.02" textLength="18.27" lengthAdjust="spacingAndGlyphs">0</tspan><tspan x="636.98" textLength="19.44" lengthAdjust="spacingAndGlyphs">8</tspan><tspan x="656.25" textLength="10.4" lengthAdjust="spacingAndGlyphs">,</tspan><tspan x="668.02">1</tspan><tspan x="685.74" textLength="17.92" lengthAdjust="spacingAndGlyphs">0</tspan><tspan x="703" textLength="10.4" lengthAdjust="spacingAndGlyphs">,</tspan><tspan x="715.02">1</tspan><tspan x="731.86" textLength="18.19" lengthAdjust="spacingAndGlyphs">2</tspan><tspan x="749.9" textLength="10.4" lengthAdjust="spacingAndGlyphs">,</tspan><tspan x="762.07">1</tspan><tspan x="779.26" textLength="17.88" lengthAdjust="spacingAndGlyphs">4</tspan><tspan x="796.9" textLength="10.4" lengthAdjust="spacingAndGlyphs">,</tspan><tspan x="808.87">1</tspan><tspan x="826.93" textLength="17.24" lengthAdjust="spacingAndGlyphs">6</tspan><tspan x="843.9" textLength="10.4" lengthAdjust="spacingAndGlyphs">,</tspan><tspan x="856.02">1</tspan><tspan x="872.96" textLength="18.37" lengthAdjust="spacingAndGlyphs">8</tspan></text>
<text y="222.8" class="lg"><tspan x="768.62">1</tspan><tspan x="784.74" textLength="10.21" lengthAdjust="spacingAndGlyphs">.</tspan><tspan x="795.28" textLength="16.85" lengthAdjust="spacingAndGlyphs">2</tspan><tspan x="813.94" textLength="17.21" lengthAdjust="spacingAndGlyphs">2</tspan><tspan x="832.92" textLength="13.32" lengthAdjust="spacingAndGlyphs">&#955;</tspan><tspan x="848.03" dy="5.79" rotate="13.2" style="font-size:44.4px;stroke-width:1.4px">/</tspan><tspan x="868.79" dy="-5.79" textLength="17.68" lengthAdjust="spacingAndGlyphs">D</tspan></text>
<text y="263.9" class="lg"><tspan x="768.62">1</tspan><tspan x="784.74" textLength="10.21" lengthAdjust="spacingAndGlyphs">.</tspan><tspan x="795.62" textLength="16.87" lengthAdjust="spacingAndGlyphs">0</tspan><tspan x="813.94" textLength="17.21" lengthAdjust="spacingAndGlyphs">2</tspan><tspan x="832.92" textLength="13.32" lengthAdjust="spacingAndGlyphs">&#955;</tspan><tspan x="848.03" dy="5.79" rotate="13.2" style="font-size:44.4px;stroke-width:1.4px">/</tspan><tspan x="868.79" dy="-5.79" textLength="17.68" lengthAdjust="spacingAndGlyphs">D</tspan></text>
<rect x="169.14" y="600.33" width="6.2" height="5.57" fill="#fff"/>
<rect x="179.69" y="600.33" width="5.8" height="5.57" fill="#fff"/>
<rect x="186.77" y="600.33" width="6.2" height="5.57" fill="#fff"/>
<rect x="197.32" y="600.33" width="5.8" height="5.57" fill="#fff"/>
<rect x="375.31" y="600.33" width="6.2" height="5.57" fill="#fff"/>
<rect x="385.86" y="600.33" width="5.8" height="5.57" fill="#fff"/>
<rect x="581.48" y="600.33" width="6.2" height="5.57" fill="#fff"/>
<rect x="592.03" y="600.33" width="5.8" height="5.57" fill="#fff"/>
<rect x="787.65" y="600.33" width="6.2" height="5.57" fill="#fff"/>
<rect x="798.2" y="600.33" width="5.8" height="5.57" fill="#fff"/>
<rect x="640.76" y="51.15" width="5.85" height="4.35" fill="#fff"/>
<rect x="649.16" y="51.15" width="5.62" height="4.35" fill="#fff"/>
<rect x="669.41" y="132.85" width="5.85" height="4.35" fill="#fff"/>
<rect x="677.81" y="132.85" width="5.62" height="4.35" fill="#fff"/>
<rect x="687.71" y="132.85" width="5.85" height="4.35" fill="#fff"/>
<rect x="696.11" y="132.85" width="5.62" height="4.35" fill="#fff"/>
<rect x="716.41" y="132.85" width="5.85" height="4.35" fill="#fff"/>
<rect x="724.81" y="132.85" width="5.62" height="4.35" fill="#fff"/>
<rect x="763.46" y="132.85" width="5.85" height="4.35" fill="#fff"/>
<rect x="771.86" y="132.85" width="5.62" height="4.35" fill="#fff"/>
<rect x="810.26" y="132.85" width="5.85" height="4.35" fill="#fff"/>
<rect x="818.66" y="132.85" width="5.62" height="4.35" fill="#fff"/>
<rect x="857.41" y="132.85" width="5.85" height="4.35" fill="#fff"/>
<rect x="865.81" y="132.85" width="5.62" height="4.35" fill="#fff"/>
<rect x="669.41" y="174.05" width="5.85" height="4.35" fill="#fff"/>
<rect x="677.81" y="174.05" width="5.62" height="4.35" fill="#fff"/>
<rect x="716.41" y="174.05" width="5.85" height="4.35" fill="#fff"/>
<rect x="724.81" y="174.05" width="5.62" height="4.35" fill="#fff"/>
<rect x="763.46" y="174.05" width="5.85" height="4.35" fill="#fff"/>
<rect x="771.86" y="174.05" width="5.62" height="4.35" fill="#fff"/>
<rect x="810.26" y="174.05" width="5.85" height="4.35" fill="#fff"/>
<rect x="818.66" y="174.05" width="5.62" height="4.35" fill="#fff"/>
<rect x="857.41" y="174.05" width="5.85" height="4.35" fill="#fff"/>
<rect x="865.81" y="174.05" width="5.62" height="4.35" fill="#fff"/>
<rect x="770.01" y="219.45" width="5.85" height="4.35" fill="#fff"/>
<rect x="778.41" y="219.45" width="5.62" height="4.35" fill="#fff"/>
<rect x="770.01" y="260.55" width="5.85" height="4.35" fill="#fff"/>
<rect x="778.41" y="260.55" width="5.62" height="4.35" fill="#fff"/>
</svg></body></html>
